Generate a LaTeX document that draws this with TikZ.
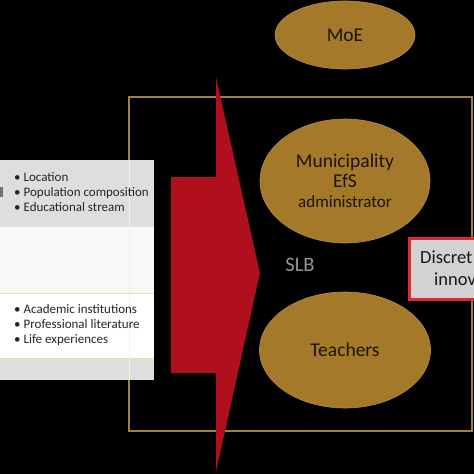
\documentclass[tikz,border=0pt]{standalone}
\usepackage{fontspec}
\setmainfont{Carlito}
\usetikzlibrary{shapes.geometric}
\definecolor{gold}{RGB}{164,122,42}
\definecolor{goldline}{RGB}{160,128,64}
\definecolor{inktext}{RGB}{28,18,6}
\definecolor{arrowred}{RGB}{176,16,30}
\definecolor{boxred}{RGB}{222,40,52}
\definecolor{boxgray}{RGB}{210,210,210}
\definecolor{panelgray}{RGB}{222,222,222}
\definecolor{panelwhite}{RGB}{248,248,248}
\definecolor{paneline}{RGB}{236,220,150}
\definecolor{slbgray}{RGB}{150,150,150}
\tikzset{
  actor/.style={ellipse, fill=gold, draw=gold!85!white, line width=0.6pt, text=inktext, inner sep=0pt, align=center, font=\fontsize{19.5}{20}\selectfont},
  bullets/.style={anchor=west, inner sep=0pt, align=left, text=black!85, font=\fontsize{13}{15}\selectfont},
  frameline/.style={draw=goldline, line width=1.1pt},
  disctext/.style={anchor=west, inner sep=0pt, text=black!90, font=\fontsize{18.5}{20}\selectfont}
}
\begin{document}
\begin{tikzpicture}[x=1pt,y=-1pt]
\useasboundingbox (0,0) rectangle (474,474);
\fill[black] (0,0) rectangle (474,474);
\clip (0,0) rectangle (474,474);
% frame
\draw[frameline] (129,97) rectangle (472,431);
% left panel
\fill[panelgray] (-2,160) rectangle (154,227);
\fill[panelwhite] (-2,227) rectangle (154,293);
\fill[white] (-2,293) rectangle (154,358);
\fill[panelgray] (-2,358) rectangle (154,380);
\draw[paneline, line width=0.8pt] (-2,293) -- (154,293);
\draw[paneline, line width=0.8pt] (-2,358) -- (154,358);
\draw[white!88!goldline, line width=0.8pt] (129,160) -- (129,380);
\fill[black!55] (0,187) rectangle (3,197);
\node[bullets] (ctx) at (14,192) {• Location\\• Population composition\\• Educational stream};
\node[bullets] (src) at (14,325) {• Academic institutions\\• Professional literature\\• Life experiences};
% red arrow
\fill[arrowred] (171,177) -- (216,177) -- (216,77) -- (260,273) -- (216,472) -- (216,373) -- (171,373) -- cycle;
% ellipses
\node[actor, minimum width=140pt, minimum height=68pt] (moe) at (345,35) {MoE};
\node[actor, minimum width=170pt, minimum height=124pt] (mun) at (345,181) {Municipality\\EfS\\{\fontsize{17}{20}\selectfont administrator}};
\node[actor, minimum width=171pt, minimum height=116pt] (tea) at (345,350) {Teachers};
% SLB
\node[text=slbgray, inner sep=0pt, font=\fontsize{20.5}{21}\selectfont] (slb) at (300,265) {SLB};
% discretion box
\node[draw=boxred, fill=boxgray, line width=3pt, minimum width=90pt, minimum height=61pt, anchor=north west, inner sep=0pt] (disc) at (408,237) {};
\node[disctext] (d1) at (420,257) {Discret};
\node[disctext] (d2) at (434,279) {innov};
\end{tikzpicture}
\end{document}
